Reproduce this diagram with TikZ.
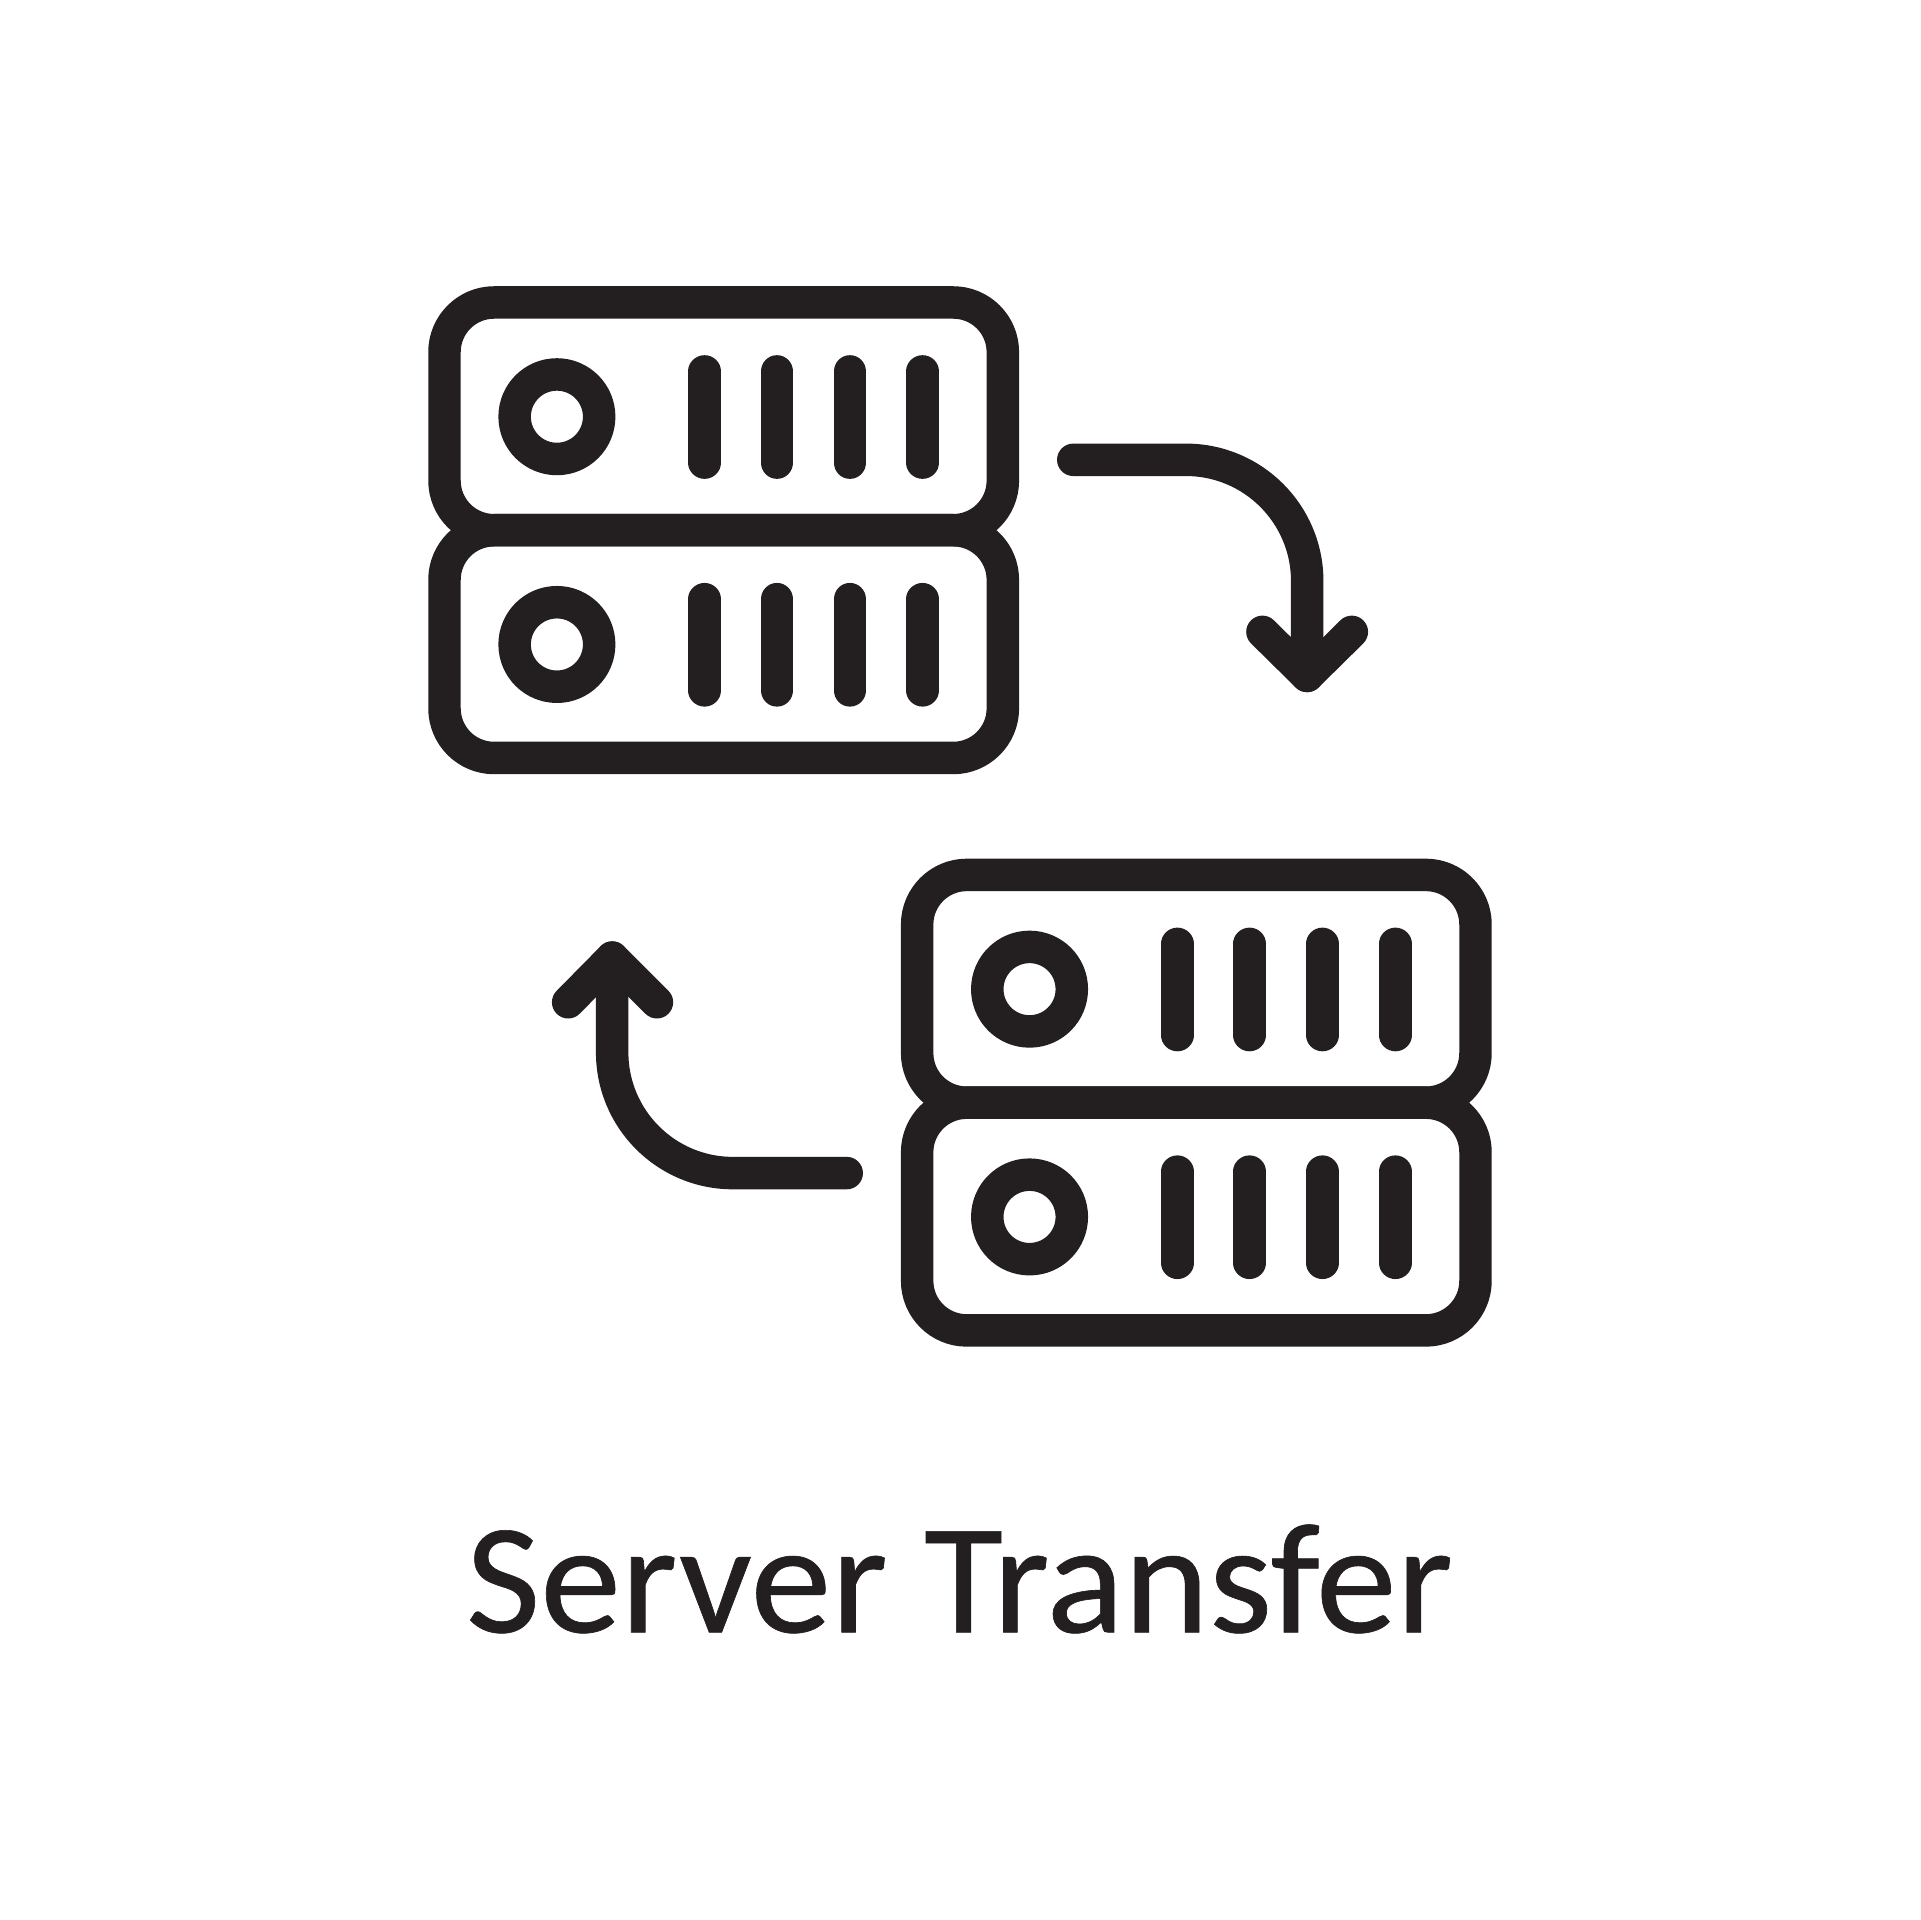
\documentclass[tikz,border=0pt]{standalone}
\usepackage{fontspec}
\setmainfont[FakeBold=0.4]{Carlito}
\definecolor{ink}{HTML}{231F20}
\tikzset{
  x=0.01cm,y=-0.01cm,
  glyph/.style={draw=ink,line width=0.265cm,line cap=round,line join=round},
  serverbox/.style={glyph,rounded corners=0.405cm},
  unit/.pic={
    \draw[serverbox] (363,0) rectangle (819,186);
    \draw[glyph] (454.8,93.3) circle[radius=0.345cm];
    \foreach \bx in {575.5,634.5,694,753.5}{
      \draw[glyph] (\bx,56.3) -- (\bx,130.8);
    }
  },
  stack/.pic={
    \pic at (0,247) {unit};
    \pic at (0,433) {unit};
  }
}
\begin{document}
\begin{tikzpicture}
\useasboundingbox[fill=white] (0,0) rectangle (1568,1568);
\pic at (0,0) {stack};
\pic at (386,467.5) {stack};
% arrow to the lower server
\draw[glyph] (876.5,375.5) -- (968.5,375.5) arc[start angle=90,end angle=0,radius=0.99cm] -- (1067.5,552);
\draw[glyph] (1031,516) -- (1067.5,552) -- (1104,516);
% arrow to the upper server
\draw[glyph] (691.5,958) -- (598.5,958) arc[start angle=270,end angle=180,radius=0.985cm] -- (500,782);
\draw[glyph] (464,818.5) -- (500,782) -- (536.5,818.5);
\node[anchor=base,inner sep=0,text=ink,font=\fontsize{36.5}{40}\selectfont,xscale=1.03,transform shape] (title) at (783.5,1333) {Server Transfer};
\end{tikzpicture}
\end{document}
